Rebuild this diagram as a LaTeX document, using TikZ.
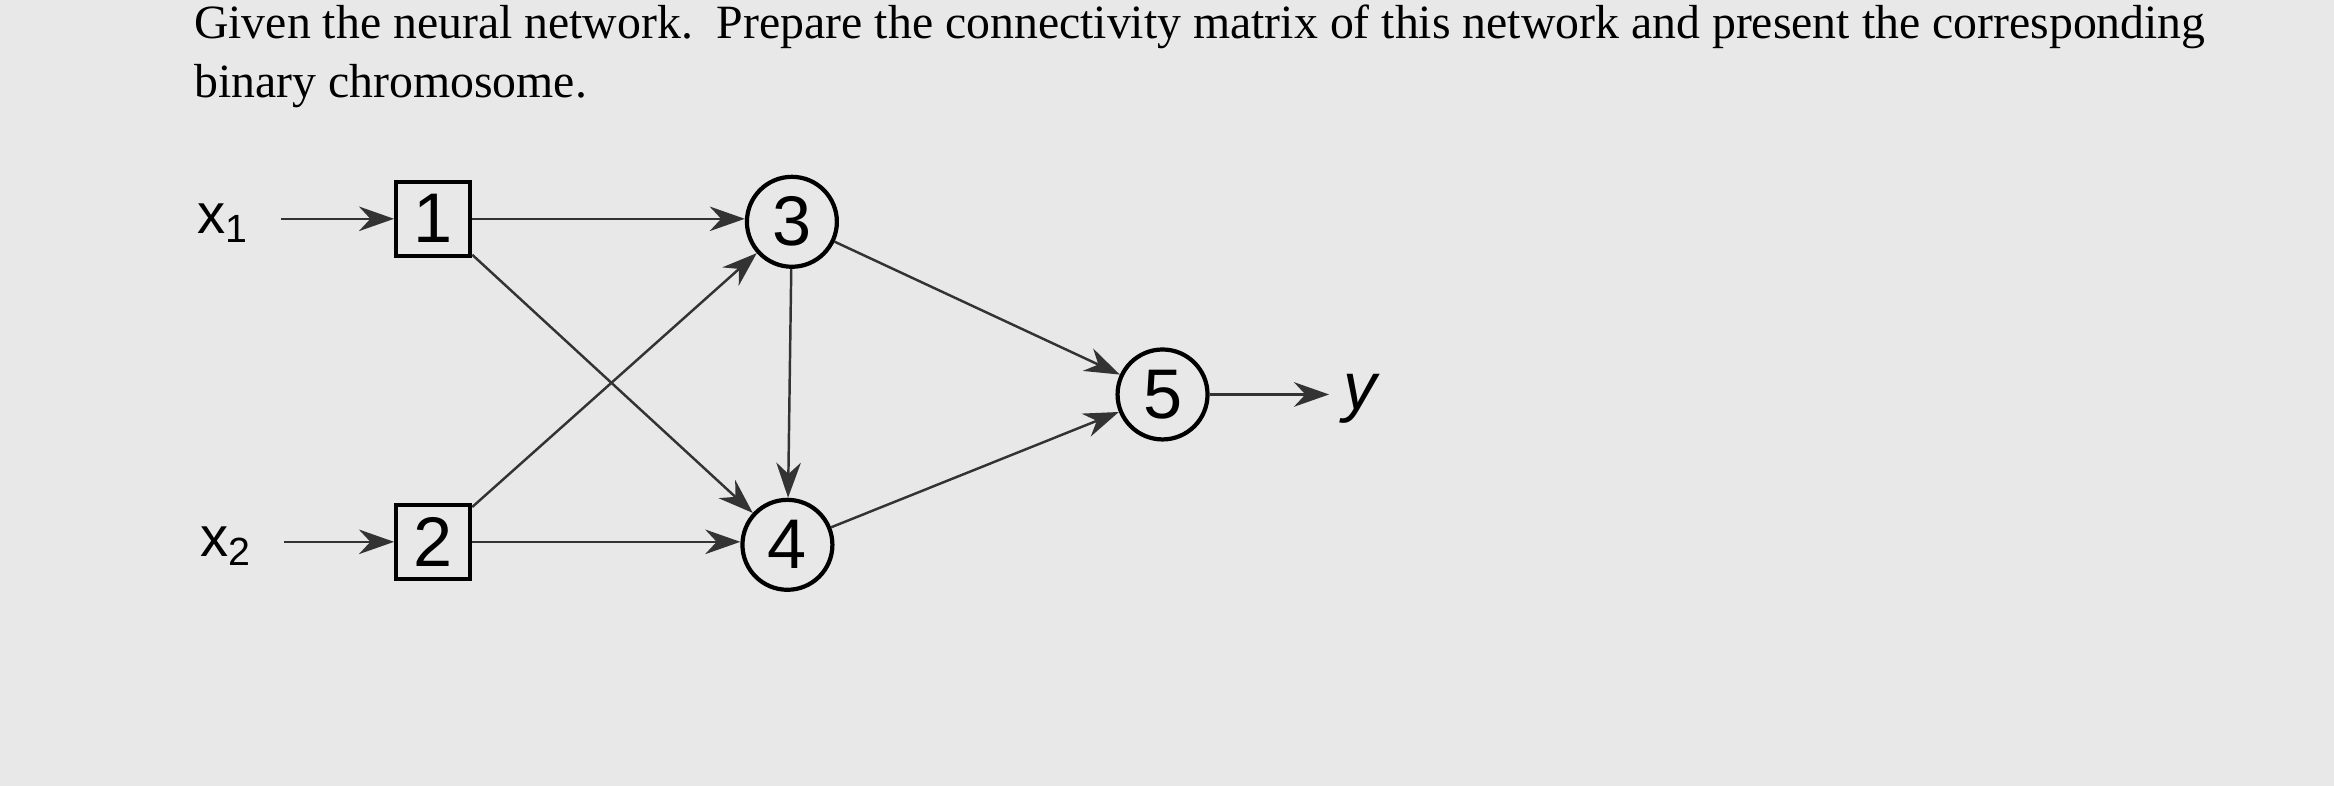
\documentclass[tikz,border=0pt]{standalone}
\usepackage{fontspec}
\setmainfont{Liberation Serif}
\setsansfont{Liberation Sans}
\usetikzlibrary{arrows.meta}
\begin{document}
\begin{tikzpicture}[x=0.014885cm,y=-0.014885cm,
  conn/.style={draw=black!80,line width=0.7pt,-{Stealth[length=10pt,width=7pt]}},
  sq/.style={draw,line width=1.2pt,minimum size=0.74cm,inner sep=0pt,font=\sffamily\fontsize{20}{22}\selectfont},
  cir/.style={draw,circle,line width=1.2pt,minimum size=0.9cm,inner sep=0pt,font=\sffamily\fontsize{20}{22}\selectfont},
  lab/.style={font=\sffamily\fontsize{16}{18}\selectfont,inner sep=1pt}]
\fill[black!9] (0,0) rectangle (1568,528);
\useasboundingbox (0,0) rectangle (1568,528);
\node[anchor=north west,align=left,inner sep=0pt,font=\fontsize{13.6}{16.8}\selectfont] (t) at (130,3)
 {Given the neural network.\ \ Prepare the connectivity matrix of this network and present the corresponding\\binary chromosome.};
\node[lab] (x1) at (150,150) {x\textsubscript{1}};
\node[lab] (x2) at (152,367) {x\textsubscript{2}};
\node[sq] (n1) at (291,147) {1};
\node[sq] (n2) at (291,364) {2};
\node[cir] (n3) at (532,149) {3};
\node[cir] (n4) at (529,366) {4};
\node[cir] (n5) at (781,265) {5};
\node[lab,font=\sffamily\itshape\fontsize{19}{21}\selectfont] (y) at (914,268) {y};
\draw[conn,shorten <=8pt] (x1.east|-n1) -- (n1);
\draw[conn,shorten <=8pt] (x2.east|-n2) -- (n2);
\draw[conn] (n1) -- (n3.west|-n1);
\draw[conn] (n2) -- (n4.west|-n2);
\draw[conn] (n1) -- (n4);
\draw[conn] (n2) -- (n3);
\draw[conn] (n3) -- (n4);
\draw[conn] (n3) -- (n5);
\draw[conn] (n4) -- (n5);
\draw[conn,shorten >=3pt] (n5) -- (y.west|-n5);
\end{tikzpicture}
\end{document}
